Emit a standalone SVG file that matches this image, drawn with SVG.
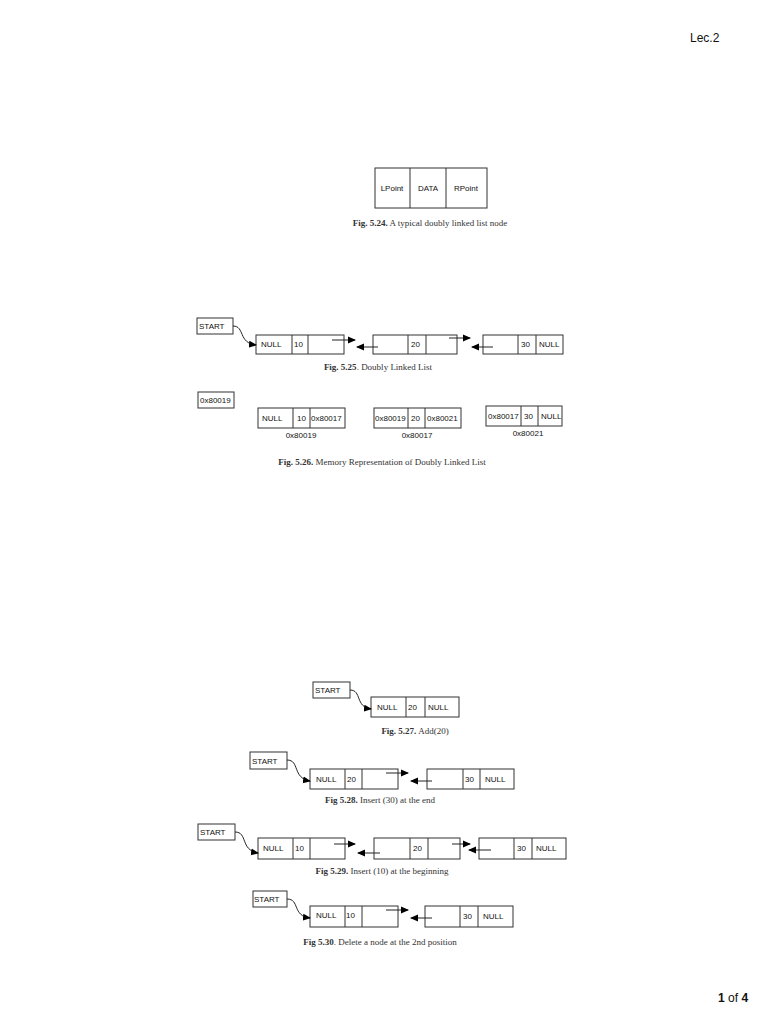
<svg xmlns="http://www.w3.org/2000/svg" width="768" height="1024" viewBox="0 0 768 1024">
<defs>
<marker id="ah" markerWidth="8" markerHeight="8" refX="7" refY="4" orient="auto" markerUnits="userSpaceOnUse"><path d="M0,0.5 L8,4 L0,7.5 Z" fill="#000"/></marker>
<style>
.b{fill:#fff;stroke:#333;stroke-width:1}
.d{stroke:#333;stroke-width:1}
.t{font-family:"Liberation Sans",Arial,sans-serif;font-size:8px;fill:#111}
.c{font-family:"Liberation Serif","Times New Roman",serif;font-size:9px;fill:#333;text-anchor:middle}
.c b,.bold{font-weight:bold}
.w{fill:none;stroke:#222;stroke-width:1}
.a{fill:none;stroke:#222;stroke-width:1;marker-end:url(#ah)}
.h{font-family:"Liberation Sans",Arial,sans-serif;font-size:12px;fill:#111}
</style>
</defs>
<rect width="768" height="1024" fill="#fff"/>
<text class="h" x="690" y="42">Lec.2</text>
<text class="h" x="718" y="1002" font-size="13"><tspan font-weight="bold">1</tspan> of <tspan font-weight="bold">4</tspan></text>

<g id="fig524">
<rect class="b" x="375" y="168" width="112" height="40"/>
<line class="d" x1="410" y1="168" x2="410" y2="208"/><line class="d" x1="446" y1="168" x2="446" y2="208"/>
<text class="t" x="392" y="191" text-anchor="middle">LPoint</text>
<text class="t" x="428" y="191" text-anchor="middle">DATA</text>
<text class="t" x="466" y="191" text-anchor="middle">RPoint</text>
<text class="c" x="430" y="226"><tspan class="bold">Fig. 5.24.</tspan> A typical doubly linked list node</text>
</g>

<g id="fig525">
<rect class="b" x="197" y="318" width="36" height="16"/><text class="t" x="199" y="329">START</text>
<rect class="b" x="256" y="335" width="88" height="19"/><line class="d" x1="292" y1="335" x2="292" y2="354"/><line class="d" x1="308" y1="335" x2="308" y2="354"/>
<text class="t" x="261" y="347">NULL</text><text class="t" x="294" y="347">10</text>
<rect class="b" x="373" y="335" width="84" height="19"/><line class="d" x1="408" y1="335" x2="408" y2="354"/><line class="d" x1="426" y1="335" x2="426" y2="354"/>
<text class="t" x="411" y="347">20</text>
<rect class="b" x="483" y="335" width="80" height="19"/><line class="d" x1="518" y1="335" x2="518" y2="354"/><line class="d" x1="536" y1="335" x2="536" y2="354"/>
<text class="t" x="521" y="347">30</text><text class="t" x="539" y="347">NULL</text>
<text class="c" x="378" y="370"><tspan class="bold">Fig. 5.25</tspan>. Doubly Linked List</text>
</g>

<g id="fig526">
<rect class="b" x="198" y="392" width="36" height="16"/><text class="t" x="200" y="403" font-size="7">0x80019</text>
<rect class="b" x="258" y="408" width="87" height="20"/><line class="d" x1="293" y1="408" x2="293" y2="428"/><line class="d" x1="310" y1="408" x2="310" y2="428"/>
<text class="t" x="262" y="421">NULL</text><text class="t" x="297" y="421">10</text><text class="t" x="311" y="421">0x80017</text>
<rect class="b" x="374" y="408" width="87" height="20"/><line class="d" x1="408" y1="408" x2="408" y2="428"/><line class="d" x1="425" y1="408" x2="425" y2="428"/>
<text class="t" x="375" y="421" font-size="7.5">0x80019</text><text class="t" x="411" y="421">20</text><text class="t" x="427" y="421" font-size="7.5">0x80021</text>
<rect class="b" x="486" y="406" width="76" height="20"/><line class="d" x1="521" y1="406" x2="521" y2="426"/><line class="d" x1="538" y1="406" x2="538" y2="426"/>
<text class="t" x="488" y="419" font-size="7">0x80017</text><text class="t" x="524" y="419">30</text><text class="t" x="541" y="419">NULL</text>
<text class="t" x="301" y="438" text-anchor="middle">0x80019</text>
<text class="t" x="417" y="438" text-anchor="middle">0x80017</text>
<text class="t" x="528" y="436" text-anchor="middle">0x80021</text>
<text class="c" x="382" y="465"><tspan class="bold">Fig. 5.26.</tspan> Memory Representation of Doubly Linked List</text>
</g>

<g id="fig527">
<rect class="b" x="313" y="682" width="37" height="16"/><text class="t" x="315" y="693">START</text>
<rect class="b" x="371" y="697" width="88" height="20"/><line class="d" x1="406" y1="697" x2="406" y2="717"/><line class="d" x1="425" y1="697" x2="425" y2="717"/>
<text class="t" x="377" y="710">NULL</text><text class="t" x="408" y="710">20</text><text class="t" x="428" y="710">NULL</text>
<text class="c" x="415" y="734"><tspan class="bold">Fig. 5.27.</tspan> Add(20)</text>
</g>

<g id="fig528">
<rect class="b" x="250" y="752" width="37" height="17"/><text class="t" x="252" y="764" font-size="9">START</text>
<rect class="b" x="310" y="769" width="88" height="20"/><line class="d" x1="345" y1="769" x2="345" y2="789"/><line class="d" x1="362" y1="769" x2="362" y2="789"/>
<text class="t" x="316" y="782" font-size="9">NULL</text><text class="t" x="347" y="782">20</text>
<rect class="b" x="427" y="769" width="87" height="20"/><line class="d" x1="463" y1="769" x2="463" y2="789"/><line class="d" x1="480" y1="769" x2="480" y2="789"/>
<text class="t" x="465" y="782">30</text><text class="t" x="485" y="782" font-size="9">NULL</text>
<text class="c" x="380" y="803"><tspan class="bold">Fig 5.28.</tspan> Insert (30) at the end</text>
</g>

<g id="fig529">
<rect class="b" x="198" y="824" width="37" height="16"/><text class="t" x="200" y="835" font-size="9">START</text>
<rect class="b" x="258" y="838" width="87" height="21"/><line class="d" x1="293" y1="838" x2="293" y2="859"/><line class="d" x1="310" y1="838" x2="310" y2="859"/>
<text class="t" x="263" y="851" font-size="9">NULL</text><text class="t" x="295" y="851">10</text>
<rect class="b" x="374" y="838" width="86" height="21"/><line class="d" x1="410" y1="838" x2="410" y2="859"/><line class="d" x1="428" y1="838" x2="428" y2="859"/>
<text class="t" x="413" y="851">20</text>
<rect class="b" x="479" y="838" width="87" height="21"/><line class="d" x1="514" y1="838" x2="514" y2="859"/><line class="d" x1="532" y1="838" x2="532" y2="859"/>
<text class="t" x="517" y="851">30</text><text class="t" x="536" y="851">NULL</text>
<text class="c" x="382" y="874"><tspan class="bold">Fig 5.29.</tspan> Insert (10) at the beginning</text>
</g>

<g id="fig530">
<rect class="b" x="253" y="891" width="34" height="16" stroke-width="1.5"/><text class="t" x="254" y="902">START</text>
<rect class="b" x="310" y="906" width="88" height="21"/><line class="d" x1="345" y1="906" x2="345" y2="927"/><line class="d" x1="362" y1="906" x2="362" y2="927"/>
<text class="t" x="316" y="918" font-size="9">NULL</text><text class="t" x="346" y="918" font-size="9">10</text>
<rect class="b" x="425" y="906" width="88" height="21"/><line class="d" x1="460" y1="906" x2="460" y2="927"/><line class="d" x1="478" y1="906" x2="478" y2="927"/>
<text class="t" x="463" y="919" font-size="9">30</text><text class="t" x="483" y="919" font-size="9">NULL</text>
<text class="c" x="380" y="945"><tspan class="bold">Fig 5.30</tspan>. Delete a node at the 2nd position</text>
</g>

<g id="connectors">
<path class="a" d="M233,326 C245,326 238,343 256,345"/>
<path class="a" d="M332,340 L355,340"/><path class="a" d="M378,347 L357,347"/>
<path class="a" d="M449,338 L470,338"/><path class="a" d="M493,347 L472,347"/>
<path class="a" d="M350,690 C362,690 355,707 371,709"/>
<path class="a" d="M287,760 C300,760 292,778 310,781"/>
<path class="a" d="M386,773 L408,773"/><path class="a" d="M432,781 L411,781"/>
<path class="a" d="M235,832 C248,832 240,850 258,853"/>
<path class="a" d="M334,844 L355,844"/><path class="a" d="M380,853 L358,853"/>
<path class="a" d="M452,844 L470,844"/><path class="a" d="M491,850 L469,850"/>
<path class="a" d="M287,899 C300,899 292,916 310,918"/>
<path class="a" d="M386,910 L408,910"/><path class="a" d="M432,918 L411,918"/>
</g>
</svg>
